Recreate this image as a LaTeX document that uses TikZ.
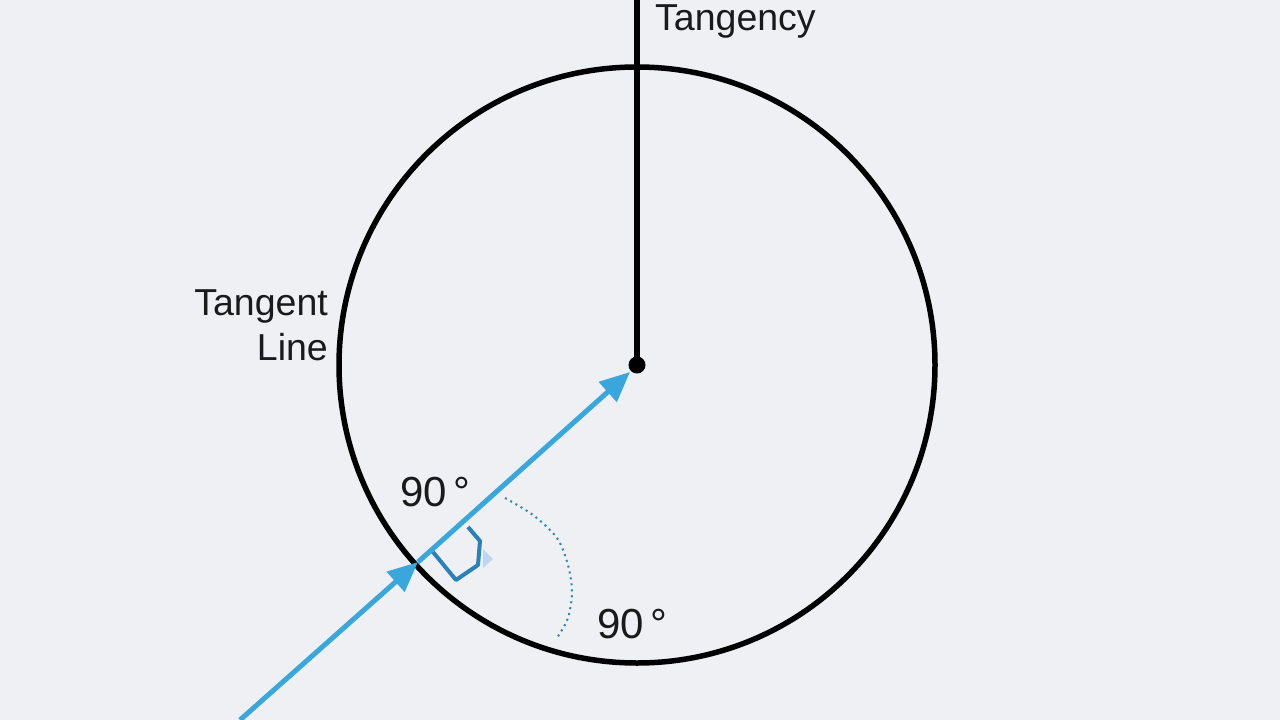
\documentclass[tikz,border=0pt]{standalone}
\usepackage{fontspec}
\setmainfont{Liberation Sans}
\usetikzlibrary{arrows.meta}
\definecolor{bg}{HTML}{EEF0F4}
\definecolor{ray}{HTML}{3AA7DC}
\definecolor{rightcol}{HTML}{2A80B8}
\definecolor{marklight}{HTML}{BCD6F2}
\definecolor{txt}{HTML}{1A1A1A}
\tikzset{
  blk/.style={line width=5.5pt, black},
  rayline/.style={line width=5pt, ray, -{Triangle[length=30pt,width=26pt]}},
  lbl/.style={inner sep=0pt, text=txt, font=\fontsize{37.5}{45}\selectfont},
  deg/.style={inner sep=0pt, text=txt, font=\fontsize{42}{48}\selectfont},
}
\begin{document}
\begin{tikzpicture}[x=1pt,y=-1pt]
\fill[bg] (0,0) rectangle (1280,720);
\useasboundingbox (0,0) rectangle (1280,720);
\coordinate (c) at (637,365);
\coordinate (top) at (637,0);
\coordinate (s) at (240,720);
\coordinate (p) at (418,562);
\coordinate (t) at (630,372);
% circle
\draw[blk] (c) circle[radius=298];
% radius to top
\draw[blk] (top) -- (c);
\fill[black] (c) circle[radius=8.5];
% blue ray
\draw[rayline] (s) -- (p);
\draw[rayline] (p) -- (t);
% right angle marker
\fill[marklight] (483,549) -- (493,559) -- (483,568) -- cycle;
\draw[rightcol, line width=4pt, line join=round] (433,552) -- (456,580) -- (478,565) -- (480,541) -- (468,527);
% dotted arc
\draw[ray!80!black, line width=2pt, dash pattern=on 2pt off 4pt] plot[smooth] coordinates {(505,498) (533,515) (557,538) (568,565) (572,592) (568,618) (557,638)};
% labels
\node[lbl, anchor=base west] (tg) at (655,30) {Tangency};
\node[lbl, anchor=north east, align=right] (tl) at (328,289) {Tangent\\Line};
\node[deg, anchor=base west] (a1) at (400,506) {90\hspace{7pt}°};
\node[deg, anchor=base west] (a2) at (597,638) {90\hspace{7pt}°};
\end{tikzpicture}
\end{document}
